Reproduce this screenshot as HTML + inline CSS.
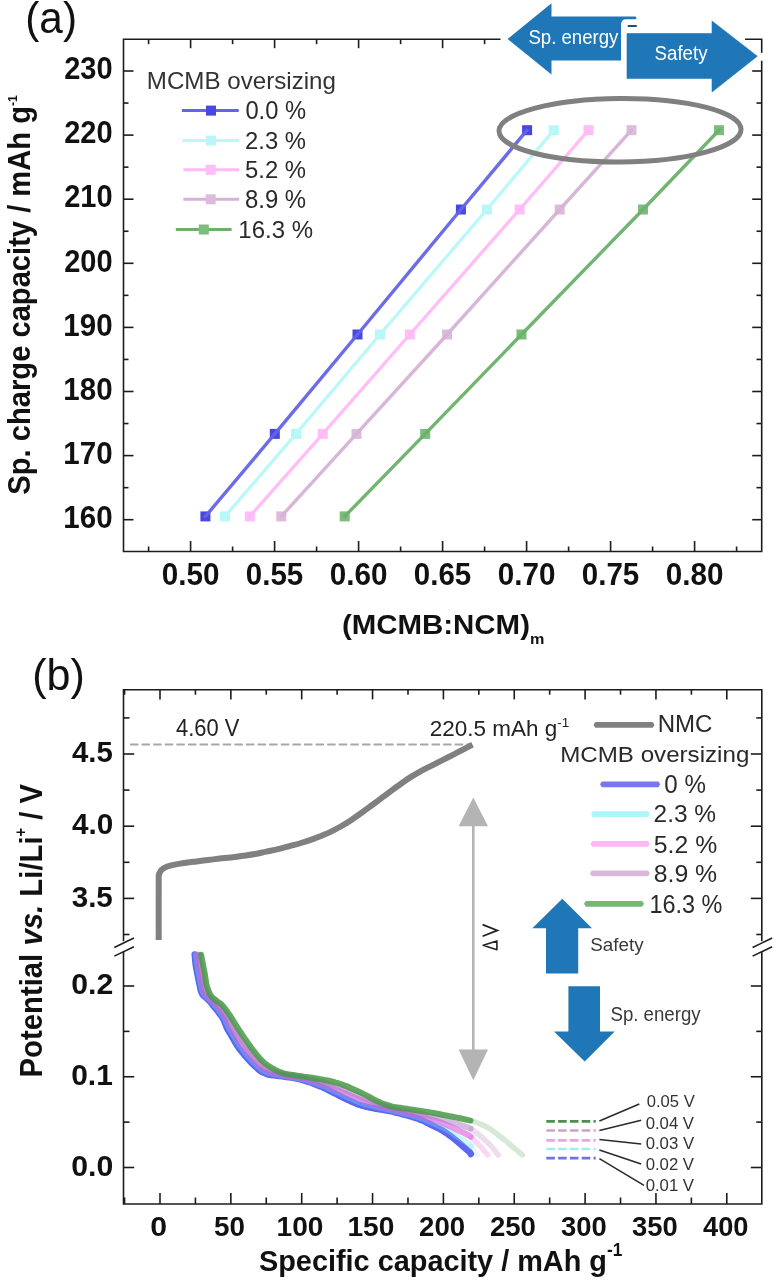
<!DOCTYPE html>
<html><head><meta charset="utf-8"><title>Figure</title>
<style>
html,body{margin:0;padding:0;background:#fff;}
svg{display:block;filter:blur(0.3px);font-family:"Liberation Sans", sans-serif;font-kerning:none;}
</style></head><body>
<svg width="774" height="1280" viewBox="0 0 774 1280">
<rect width="774" height="1280" fill="#fff"/>
<line x1="148.60" y1="551.50" x2="148.60" y2="546.50" stroke="#1c1c1c" stroke-width="1.6" />
<line x1="148.60" y1="39.20" x2="148.60" y2="44.20" stroke="#1c1c1c" stroke-width="1.6" />
<line x1="190.60" y1="551.50" x2="190.60" y2="541.00" stroke="#1c1c1c" stroke-width="1.6" />
<line x1="190.60" y1="39.20" x2="190.60" y2="48.20" stroke="#1c1c1c" stroke-width="1.6" />
<line x1="232.60" y1="551.50" x2="232.60" y2="546.50" stroke="#1c1c1c" stroke-width="1.6" />
<line x1="232.60" y1="39.20" x2="232.60" y2="44.20" stroke="#1c1c1c" stroke-width="1.6" />
<line x1="274.60" y1="551.50" x2="274.60" y2="541.00" stroke="#1c1c1c" stroke-width="1.6" />
<line x1="274.60" y1="39.20" x2="274.60" y2="48.20" stroke="#1c1c1c" stroke-width="1.6" />
<line x1="316.60" y1="551.50" x2="316.60" y2="546.50" stroke="#1c1c1c" stroke-width="1.6" />
<line x1="316.60" y1="39.20" x2="316.60" y2="44.20" stroke="#1c1c1c" stroke-width="1.6" />
<line x1="358.60" y1="551.50" x2="358.60" y2="541.00" stroke="#1c1c1c" stroke-width="1.6" />
<line x1="358.60" y1="39.20" x2="358.60" y2="48.20" stroke="#1c1c1c" stroke-width="1.6" />
<line x1="400.60" y1="551.50" x2="400.60" y2="546.50" stroke="#1c1c1c" stroke-width="1.6" />
<line x1="400.60" y1="39.20" x2="400.60" y2="44.20" stroke="#1c1c1c" stroke-width="1.6" />
<line x1="442.60" y1="551.50" x2="442.60" y2="541.00" stroke="#1c1c1c" stroke-width="1.6" />
<line x1="442.60" y1="39.20" x2="442.60" y2="48.20" stroke="#1c1c1c" stroke-width="1.6" />
<line x1="484.60" y1="551.50" x2="484.60" y2="546.50" stroke="#1c1c1c" stroke-width="1.6" />
<line x1="484.60" y1="39.20" x2="484.60" y2="44.20" stroke="#1c1c1c" stroke-width="1.6" />
<line x1="526.60" y1="551.50" x2="526.60" y2="541.00" stroke="#1c1c1c" stroke-width="1.6" />
<line x1="568.60" y1="551.50" x2="568.60" y2="546.50" stroke="#1c1c1c" stroke-width="1.6" />
<line x1="610.60" y1="551.50" x2="610.60" y2="541.00" stroke="#1c1c1c" stroke-width="1.6" />
<line x1="652.60" y1="551.50" x2="652.60" y2="546.50" stroke="#1c1c1c" stroke-width="1.6" />
<line x1="694.60" y1="551.50" x2="694.60" y2="541.00" stroke="#1c1c1c" stroke-width="1.6" />
<line x1="736.60" y1="551.50" x2="736.60" y2="546.50" stroke="#1c1c1c" stroke-width="1.6" />
<line x1="123.50" y1="519.70" x2="133.50" y2="519.70" stroke="#1c1c1c" stroke-width="1.6" />
<line x1="761.70" y1="519.70" x2="752.20" y2="519.70" stroke="#1c1c1c" stroke-width="1.6" />
<line x1="123.50" y1="487.65" x2="128.50" y2="487.65" stroke="#1c1c1c" stroke-width="1.6" />
<line x1="761.70" y1="487.65" x2="756.50" y2="487.65" stroke="#1c1c1c" stroke-width="1.6" />
<line x1="123.50" y1="455.60" x2="133.50" y2="455.60" stroke="#1c1c1c" stroke-width="1.6" />
<line x1="761.70" y1="455.60" x2="752.20" y2="455.60" stroke="#1c1c1c" stroke-width="1.6" />
<line x1="123.50" y1="423.55" x2="128.50" y2="423.55" stroke="#1c1c1c" stroke-width="1.6" />
<line x1="761.70" y1="423.55" x2="756.50" y2="423.55" stroke="#1c1c1c" stroke-width="1.6" />
<line x1="123.50" y1="391.50" x2="133.50" y2="391.50" stroke="#1c1c1c" stroke-width="1.6" />
<line x1="761.70" y1="391.50" x2="752.20" y2="391.50" stroke="#1c1c1c" stroke-width="1.6" />
<line x1="123.50" y1="359.45" x2="128.50" y2="359.45" stroke="#1c1c1c" stroke-width="1.6" />
<line x1="761.70" y1="359.45" x2="756.50" y2="359.45" stroke="#1c1c1c" stroke-width="1.6" />
<line x1="123.50" y1="327.40" x2="133.50" y2="327.40" stroke="#1c1c1c" stroke-width="1.6" />
<line x1="761.70" y1="327.40" x2="752.20" y2="327.40" stroke="#1c1c1c" stroke-width="1.6" />
<line x1="123.50" y1="295.35" x2="128.50" y2="295.35" stroke="#1c1c1c" stroke-width="1.6" />
<line x1="761.70" y1="295.35" x2="756.50" y2="295.35" stroke="#1c1c1c" stroke-width="1.6" />
<line x1="123.50" y1="263.30" x2="133.50" y2="263.30" stroke="#1c1c1c" stroke-width="1.6" />
<line x1="761.70" y1="263.30" x2="752.20" y2="263.30" stroke="#1c1c1c" stroke-width="1.6" />
<line x1="123.50" y1="231.25" x2="128.50" y2="231.25" stroke="#1c1c1c" stroke-width="1.6" />
<line x1="761.70" y1="231.25" x2="756.50" y2="231.25" stroke="#1c1c1c" stroke-width="1.6" />
<line x1="123.50" y1="199.20" x2="133.50" y2="199.20" stroke="#1c1c1c" stroke-width="1.6" />
<line x1="761.70" y1="199.20" x2="752.20" y2="199.20" stroke="#1c1c1c" stroke-width="1.6" />
<line x1="123.50" y1="167.15" x2="128.50" y2="167.15" stroke="#1c1c1c" stroke-width="1.6" />
<line x1="761.70" y1="167.15" x2="756.50" y2="167.15" stroke="#1c1c1c" stroke-width="1.6" />
<line x1="123.50" y1="135.10" x2="133.50" y2="135.10" stroke="#1c1c1c" stroke-width="1.6" />
<line x1="761.70" y1="135.10" x2="752.20" y2="135.10" stroke="#1c1c1c" stroke-width="1.6" />
<line x1="123.50" y1="103.05" x2="128.50" y2="103.05" stroke="#1c1c1c" stroke-width="1.6" />
<line x1="761.70" y1="103.05" x2="756.50" y2="103.05" stroke="#1c1c1c" stroke-width="1.6" />
<line x1="123.50" y1="71.00" x2="133.50" y2="71.00" stroke="#1c1c1c" stroke-width="1.6" />
<line x1="761.70" y1="71.00" x2="752.20" y2="71.00" stroke="#1c1c1c" stroke-width="1.6" />
<path d="M500.5,39.2 H123.5 V551.5 H761.7 V39.2 H745" fill="none" stroke="#1c1c1c" stroke-width="1.6" stroke-linejoin="miter"/>
<text transform="translate(65.20,527.90) scale(0.9502,1) translate(-1.96,0)" fill="#111" ><tspan y="0.00" font-size="31.08" font-weight="bold" font-style="normal">160</tspan></text>
<text transform="translate(65.20,463.80) scale(0.9502,1) translate(-1.96,0)" fill="#111" ><tspan y="0.00" font-size="31.08" font-weight="bold" font-style="normal">170</tspan></text>
<text transform="translate(65.20,399.70) scale(0.9502,1) translate(-1.96,0)" fill="#111" ><tspan y="0.00" font-size="31.08" font-weight="bold" font-style="normal">180</tspan></text>
<text transform="translate(65.20,335.60) scale(0.9502,1) translate(-1.96,0)" fill="#111" ><tspan y="0.00" font-size="31.08" font-weight="bold" font-style="normal">190</tspan></text>
<text transform="translate(65.20,271.50) scale(0.9333,1) translate(-1.08,0)" fill="#111" ><tspan y="0.00" font-size="31.08" font-weight="bold" font-style="normal">200</tspan></text>
<text transform="translate(65.20,207.40) scale(0.9333,1) translate(-1.08,0)" fill="#111" ><tspan y="0.00" font-size="31.08" font-weight="bold" font-style="normal">210</tspan></text>
<text transform="translate(65.20,143.30) scale(0.9333,1) translate(-1.08,0)" fill="#111" ><tspan y="0.00" font-size="31.08" font-weight="bold" font-style="normal">220</tspan></text>
<text transform="translate(65.20,79.20) scale(0.9333,1) translate(-1.08,0)" fill="#111" ><tspan y="0.00" font-size="31.08" font-weight="bold" font-style="normal">230</tspan></text>
<text transform="translate(163.00,584.50) scale(0.9555,1) translate(-1.23,0)" fill="#111" ><tspan y="0.00" font-size="31.08" font-weight="bold" font-style="normal">0.50</tspan></text>
<text transform="translate(247.00,584.50) scale(0.9487,1) translate(-1.23,0)" fill="#111" ><tspan y="0.00" font-size="31.08" font-weight="bold" font-style="normal">0.55</tspan></text>
<text transform="translate(331.00,584.50) scale(0.9555,1) translate(-1.23,0)" fill="#111" ><tspan y="0.00" font-size="31.08" font-weight="bold" font-style="normal">0.60</tspan></text>
<text transform="translate(415.00,584.50) scale(0.9487,1) translate(-1.23,0)" fill="#111" ><tspan y="0.00" font-size="31.08" font-weight="bold" font-style="normal">0.65</tspan></text>
<text transform="translate(499.00,584.50) scale(0.9555,1) translate(-1.23,0)" fill="#111" ><tspan y="0.00" font-size="31.08" font-weight="bold" font-style="normal">0.70</tspan></text>
<text transform="translate(583.00,584.50) scale(0.9487,1) translate(-1.23,0)" fill="#111" ><tspan y="0.00" font-size="31.08" font-weight="bold" font-style="normal">0.75</tspan></text>
<text transform="translate(667.00,584.50) scale(0.9555,1) translate(-1.23,0)" fill="#111" ><tspan y="0.00" font-size="31.08" font-weight="bold" font-style="normal">0.80</tspan></text>
<text transform="translate(343.40,633.60) scale(1.0497,1) translate(-1.40,0)" fill="#111" ><tspan y="0.00" font-size="28.05" font-weight="bold" font-style="normal">(MCMB:NCM)</tspan><tspan y="10.10" font-size="15.43" font-weight="bold" font-style="normal">m</tspan></text>
<text transform="translate(29.60,493.80) rotate(-90) scale(0.9339,1) translate(-0.90,0)" fill="#111" ><tspan y="0.00" font-size="31.22" font-weight="bold" font-style="normal">Sp. charge capacity / mAh g</tspan><tspan y="-12.49" font-size="13.11" font-weight="bold" font-style="normal">-1</tspan></text>
<text transform="translate(27.90,33.30) scale(0.9441,1) translate(-2.78,0)" fill="#111" ><tspan y="0.00" font-size="44.85" font-weight="normal" font-style="normal">(a)</tspan></text>
<text transform="translate(148.80,88.90) scale(1.0316,1) translate(-1.92,0)" fill="#333" ><tspan y="0.00" font-size="23.40" font-weight="normal" font-style="normal">MCMB oversizing</tspan></text>
<line x1="181.90" y1="110.60" x2="238.70" y2="110.60" stroke="#6464e6" stroke-width="3.0" />
<rect x="206.00" y="105.60" width="10.0" height="10.0" fill="#4848e0"/>
<text transform="translate(246.30,118.80) scale(0.9521,1) translate(-0.97,0)" fill="#2a2a2a" ><tspan y="0.00" font-size="24.92" font-weight="normal" font-style="normal">0.0 %</tspan></text>
<line x1="182.50" y1="140.60" x2="239.00" y2="140.60" stroke="#b8f8f8" stroke-width="3.0" />
<rect x="206.00" y="135.60" width="10.0" height="10.0" fill="#b8f7f7"/>
<text transform="translate(246.30,149.30) scale(0.9620,1) translate(-1.25,0)" fill="#2a2a2a" ><tspan y="0.00" font-size="24.78" font-weight="normal" font-style="normal">2.3 %</tspan></text>
<line x1="183.30" y1="169.80" x2="239.00" y2="169.80" stroke="#ffbaf6" stroke-width="3.0" />
<rect x="205.70" y="164.80" width="10.0" height="10.0" fill="#ffbef8"/>
<text transform="translate(246.00,178.30) scale(0.9873,1) translate(-0.97,0)" fill="#2a2a2a" ><tspan y="0.00" font-size="24.20" font-weight="normal" font-style="normal">5.2 %</tspan></text>
<line x1="183.30" y1="199.30" x2="239.00" y2="199.30" stroke="#d6b2d6" stroke-width="3.0" />
<rect x="205.70" y="194.30" width="10.0" height="10.0" fill="#dcbcdc"/>
<text transform="translate(246.00,207.90) scale(0.9603,1) translate(-1.08,0)" fill="#2a2a2a" ><tspan y="0.00" font-size="24.92" font-weight="normal" font-style="normal">8.9 %</tspan></text>
<line x1="175.80" y1="229.50" x2="231.60" y2="229.50" stroke="#6cb06c" stroke-width="3.0" />
<rect x="198.80" y="224.50" width="10.0" height="10.0" fill="#7cbc7c"/>
<text transform="translate(240.20,238.10) scale(0.9984,1) translate(-1.83,0)" fill="#2a2a2a" ><tspan y="0.00" font-size="24.06" font-weight="normal" font-style="normal">16.3 %</tspan></text>
<rect x="200.40" y="511.40" width="10.0" height="10.0" fill="#4848e0"/>
<rect x="269.80" y="428.90" width="10.0" height="10.0" fill="#4848e0"/>
<rect x="352.50" y="329.50" width="10.0" height="10.0" fill="#4848e0"/>
<rect x="455.90" y="204.50" width="10.0" height="10.0" fill="#4848e0"/>
<rect x="522.10" y="125.20" width="10.0" height="10.0" fill="#4848e0"/>
<polyline points="205.40,516.40 274.80,433.90 357.50,334.50 460.90,209.50 527.10,130.20" fill="none" stroke="#6464e6" stroke-width="3.4" stroke-linejoin="round" stroke-linecap="round" opacity="0.95"/>
<rect x="220.00" y="511.40" width="10.0" height="10.0" fill="#b8f7f7"/>
<rect x="291.00" y="428.90" width="10.0" height="10.0" fill="#b8f7f7"/>
<rect x="375.00" y="329.50" width="10.0" height="10.0" fill="#b8f7f7"/>
<rect x="481.90" y="204.50" width="10.0" height="10.0" fill="#b8f7f7"/>
<rect x="548.80" y="125.20" width="10.0" height="10.0" fill="#b8f7f7"/>
<polyline points="225.00,516.40 296.00,433.90 380.00,334.50 486.90,209.50 553.80,130.20" fill="none" stroke="#b8f8f8" stroke-width="3.4" stroke-linejoin="round" stroke-linecap="round" opacity="0.95"/>
<rect x="244.80" y="511.40" width="10.0" height="10.0" fill="#ffbef8"/>
<rect x="317.80" y="428.90" width="10.0" height="10.0" fill="#ffbef8"/>
<rect x="404.80" y="329.50" width="10.0" height="10.0" fill="#ffbef8"/>
<rect x="514.60" y="204.50" width="10.0" height="10.0" fill="#ffbef8"/>
<rect x="583.50" y="125.20" width="10.0" height="10.0" fill="#ffbef8"/>
<polyline points="249.80,516.40 322.80,433.90 409.80,334.50 519.60,209.50 588.50,130.20" fill="none" stroke="#ffbaf6" stroke-width="3.4" stroke-linejoin="round" stroke-linecap="round" opacity="0.95"/>
<rect x="276.30" y="511.40" width="10.0" height="10.0" fill="#dcbcdc"/>
<rect x="351.50" y="428.90" width="10.0" height="10.0" fill="#dcbcdc"/>
<rect x="442.10" y="329.50" width="10.0" height="10.0" fill="#dcbcdc"/>
<rect x="554.70" y="204.50" width="10.0" height="10.0" fill="#dcbcdc"/>
<rect x="626.50" y="125.20" width="10.0" height="10.0" fill="#dcbcdc"/>
<polyline points="281.30,516.40 356.50,433.90 447.10,334.50 559.70,209.50 631.50,130.20" fill="none" stroke="#d6b2d6" stroke-width="3.4" stroke-linejoin="round" stroke-linecap="round" opacity="0.95"/>
<rect x="339.70" y="511.40" width="10.0" height="10.0" fill="#7cbc7c"/>
<rect x="420.20" y="428.90" width="10.0" height="10.0" fill="#7cbc7c"/>
<rect x="516.50" y="329.50" width="10.0" height="10.0" fill="#7cbc7c"/>
<rect x="638.00" y="204.50" width="10.0" height="10.0" fill="#7cbc7c"/>
<rect x="714.00" y="125.20" width="10.0" height="10.0" fill="#7cbc7c"/>
<polyline points="344.70,516.40 425.20,433.90 521.50,334.50 643.00,209.50 719.00,130.20" fill="none" stroke="#6cb06c" stroke-width="3.4" stroke-linejoin="round" stroke-linecap="round" opacity="0.95"/>
<ellipse cx="620" cy="130.2" rx="121" ry="31.8" fill="none" stroke="#808080" stroke-width="5" transform="rotate(-0.4 620 130.2)"/>
<path d="M507.6,38.9 L551.5,3.3 L551.5,16.6 L634.5,16.6 Q636.5,16.6 636.5,17.9 Q636.5,19.2 634.5,19.2 L626,19.2 Q621,19.2 621,25 L621,60.6 L551.5,60.6 L551.5,74.5 Z" fill="#2077b8"/>
<line x1="628.5" y1="26" x2="636" y2="26" stroke="#1f4f80" stroke-width="2" stroke-linecap="round"/>
<path d="M627,33.5 L712,33.5 L712,21 L757.3,56.2 L712,92 L712,78.6 L627,78.6 Z" fill="#2077b8" stroke="#2077b8" stroke-width="0.6" stroke-linejoin="round"/>
<rect x="758.8" y="52.8" width="6" height="7.9" fill="#fff"/>
<text transform="translate(529.30,43.80) scale(0.9279,1) translate(-0.91,0)" fill="#fff" ><tspan y="0.00" font-size="20.05" font-weight="normal" font-style="normal">Sp. energy</tspan></text>
<text transform="translate(655.40,59.70) scale(0.9389,1) translate(-0.90,0)" fill="#fff" ><tspan y="0.00" font-size="19.91" font-weight="normal" font-style="normal">Safety</tspan></text>
<line x1="124.57" y1="1204.00" x2="124.57" y2="1197.50" stroke="#1c1c1c" stroke-width="1.6" />
<line x1="124.57" y1="689.70" x2="124.57" y2="694.70" stroke="#1c1c1c" stroke-width="1.6" />
<line x1="160.00" y1="1204.00" x2="160.00" y2="1193.00" stroke="#1c1c1c" stroke-width="1.6" />
<line x1="160.00" y1="689.70" x2="160.00" y2="699.40" stroke="#1c1c1c" stroke-width="1.6" />
<line x1="195.43" y1="1204.00" x2="195.43" y2="1197.50" stroke="#1c1c1c" stroke-width="1.6" />
<line x1="195.43" y1="689.70" x2="195.43" y2="694.70" stroke="#1c1c1c" stroke-width="1.6" />
<line x1="230.85" y1="1204.00" x2="230.85" y2="1193.00" stroke="#1c1c1c" stroke-width="1.6" />
<line x1="230.85" y1="689.70" x2="230.85" y2="699.40" stroke="#1c1c1c" stroke-width="1.6" />
<line x1="266.27" y1="1204.00" x2="266.27" y2="1197.50" stroke="#1c1c1c" stroke-width="1.6" />
<line x1="266.27" y1="689.70" x2="266.27" y2="694.70" stroke="#1c1c1c" stroke-width="1.6" />
<line x1="301.70" y1="1204.00" x2="301.70" y2="1193.00" stroke="#1c1c1c" stroke-width="1.6" />
<line x1="301.70" y1="689.70" x2="301.70" y2="699.40" stroke="#1c1c1c" stroke-width="1.6" />
<line x1="337.12" y1="1204.00" x2="337.12" y2="1197.50" stroke="#1c1c1c" stroke-width="1.6" />
<line x1="337.12" y1="689.70" x2="337.12" y2="694.70" stroke="#1c1c1c" stroke-width="1.6" />
<line x1="372.55" y1="1204.00" x2="372.55" y2="1193.00" stroke="#1c1c1c" stroke-width="1.6" />
<line x1="372.55" y1="689.70" x2="372.55" y2="699.40" stroke="#1c1c1c" stroke-width="1.6" />
<line x1="407.98" y1="1204.00" x2="407.98" y2="1197.50" stroke="#1c1c1c" stroke-width="1.6" />
<line x1="407.98" y1="689.70" x2="407.98" y2="694.70" stroke="#1c1c1c" stroke-width="1.6" />
<line x1="443.40" y1="1204.00" x2="443.40" y2="1193.00" stroke="#1c1c1c" stroke-width="1.6" />
<line x1="443.40" y1="689.70" x2="443.40" y2="699.40" stroke="#1c1c1c" stroke-width="1.6" />
<line x1="478.82" y1="1204.00" x2="478.82" y2="1197.50" stroke="#1c1c1c" stroke-width="1.6" />
<line x1="478.82" y1="689.70" x2="478.82" y2="694.70" stroke="#1c1c1c" stroke-width="1.6" />
<line x1="514.25" y1="1204.00" x2="514.25" y2="1193.00" stroke="#1c1c1c" stroke-width="1.6" />
<line x1="514.25" y1="689.70" x2="514.25" y2="699.40" stroke="#1c1c1c" stroke-width="1.6" />
<line x1="549.67" y1="1204.00" x2="549.67" y2="1197.50" stroke="#1c1c1c" stroke-width="1.6" />
<line x1="549.67" y1="689.70" x2="549.67" y2="694.70" stroke="#1c1c1c" stroke-width="1.6" />
<line x1="585.10" y1="1204.00" x2="585.10" y2="1193.00" stroke="#1c1c1c" stroke-width="1.6" />
<line x1="585.10" y1="689.70" x2="585.10" y2="699.40" stroke="#1c1c1c" stroke-width="1.6" />
<line x1="620.53" y1="1204.00" x2="620.53" y2="1197.50" stroke="#1c1c1c" stroke-width="1.6" />
<line x1="620.53" y1="689.70" x2="620.53" y2="694.70" stroke="#1c1c1c" stroke-width="1.6" />
<line x1="655.95" y1="1204.00" x2="655.95" y2="1193.00" stroke="#1c1c1c" stroke-width="1.6" />
<line x1="655.95" y1="689.70" x2="655.95" y2="699.40" stroke="#1c1c1c" stroke-width="1.6" />
<line x1="691.38" y1="1204.00" x2="691.38" y2="1197.50" stroke="#1c1c1c" stroke-width="1.6" />
<line x1="691.38" y1="689.70" x2="691.38" y2="694.70" stroke="#1c1c1c" stroke-width="1.6" />
<line x1="726.80" y1="1204.00" x2="726.80" y2="1193.00" stroke="#1c1c1c" stroke-width="1.6" />
<line x1="726.80" y1="689.70" x2="726.80" y2="699.40" stroke="#1c1c1c" stroke-width="1.6" />
<line x1="123.50" y1="934.50" x2="129.50" y2="934.50" stroke="#1c1c1c" stroke-width="1.6" />
<line x1="761.80" y1="934.50" x2="756.30" y2="934.50" stroke="#1c1c1c" stroke-width="1.6" />
<line x1="123.50" y1="898.40" x2="134.20" y2="898.40" stroke="#1c1c1c" stroke-width="1.6" />
<line x1="761.80" y1="898.40" x2="750.80" y2="898.40" stroke="#1c1c1c" stroke-width="1.6" />
<line x1="123.50" y1="862.30" x2="129.50" y2="862.30" stroke="#1c1c1c" stroke-width="1.6" />
<line x1="761.80" y1="862.30" x2="756.30" y2="862.30" stroke="#1c1c1c" stroke-width="1.6" />
<line x1="123.50" y1="826.20" x2="134.20" y2="826.20" stroke="#1c1c1c" stroke-width="1.6" />
<line x1="761.80" y1="826.20" x2="750.80" y2="826.20" stroke="#1c1c1c" stroke-width="1.6" />
<line x1="123.50" y1="790.10" x2="129.50" y2="790.10" stroke="#1c1c1c" stroke-width="1.6" />
<line x1="761.80" y1="790.10" x2="756.30" y2="790.10" stroke="#1c1c1c" stroke-width="1.6" />
<line x1="123.50" y1="754.00" x2="134.20" y2="754.00" stroke="#1c1c1c" stroke-width="1.6" />
<line x1="761.80" y1="754.00" x2="750.80" y2="754.00" stroke="#1c1c1c" stroke-width="1.6" />
<line x1="123.50" y1="717.90" x2="129.50" y2="717.90" stroke="#1c1c1c" stroke-width="1.6" />
<line x1="761.80" y1="717.90" x2="756.30" y2="717.90" stroke="#1c1c1c" stroke-width="1.6" />
<line x1="123.50" y1="1167.50" x2="134.20" y2="1167.50" stroke="#1c1c1c" stroke-width="1.6" />
<line x1="761.80" y1="1167.50" x2="750.80" y2="1167.50" stroke="#1c1c1c" stroke-width="1.6" />
<line x1="123.50" y1="1122.12" x2="129.50" y2="1122.12" stroke="#1c1c1c" stroke-width="1.6" />
<line x1="761.80" y1="1122.12" x2="756.30" y2="1122.12" stroke="#1c1c1c" stroke-width="1.6" />
<line x1="123.50" y1="1076.75" x2="134.20" y2="1076.75" stroke="#1c1c1c" stroke-width="1.6" />
<line x1="761.80" y1="1076.75" x2="750.80" y2="1076.75" stroke="#1c1c1c" stroke-width="1.6" />
<line x1="123.50" y1="1031.38" x2="129.50" y2="1031.38" stroke="#1c1c1c" stroke-width="1.6" />
<line x1="761.80" y1="1031.38" x2="756.30" y2="1031.38" stroke="#1c1c1c" stroke-width="1.6" />
<line x1="123.50" y1="986.00" x2="134.20" y2="986.00" stroke="#1c1c1c" stroke-width="1.6" />
<line x1="761.80" y1="986.00" x2="750.80" y2="986.00" stroke="#1c1c1c" stroke-width="1.6" />
<path d="M123.5,941.3 V689.7 H761.8 V941.3 M123.5,951.7 V1204.0 H761.8 V951.7" fill="none" stroke="#1c1c1c" stroke-width="1.6" stroke-linejoin="miter"/>
<line x1="114.30" y1="947.50" x2="133.90" y2="938.00" stroke="#1c1c1c" stroke-width="1.5" />
<line x1="114.30" y1="956.10" x2="133.90" y2="946.70" stroke="#1c1c1c" stroke-width="1.5" />
<line x1="752.60" y1="947.50" x2="772.20" y2="938.00" stroke="#1c1c1c" stroke-width="1.5" />
<line x1="752.60" y1="956.10" x2="772.20" y2="946.70" stroke="#1c1c1c" stroke-width="1.5" />
<text transform="translate(72.40,762.10) scale(0.9770,1) translate(-0.46,0)" fill="#111" ><tspan y="0.00" font-size="30.09" font-weight="bold" font-style="normal">4.5</tspan></text>
<text transform="translate(72.40,834.30) scale(1.0013,1) translate(-0.45,0)" fill="#111" ><tspan y="0.00" font-size="29.65" font-weight="bold" font-style="normal">4.0</tspan></text>
<text transform="translate(72.40,906.50) scale(0.9973,1) translate(-0.68,0)" fill="#111" ><tspan y="0.00" font-size="29.65" font-weight="bold" font-style="normal">3.5</tspan></text>
<text transform="translate(72.40,994.10) scale(1.0192,1) translate(-1.17,0)" fill="#111" ><tspan y="0.00" font-size="29.65" font-weight="bold" font-style="normal">0.2</tspan></text>
<text transform="translate(72.40,1084.85) scale(1.0098,1) translate(-1.17,0)" fill="#111" ><tspan y="0.00" font-size="29.65" font-weight="bold" font-style="normal">0.1</tspan></text>
<text transform="translate(72.40,1175.60) scale(1.0200,1) translate(-1.17,0)" fill="#111" ><tspan y="0.00" font-size="29.65" font-weight="bold" font-style="normal">0.0</tspan></text>
<text transform="translate(151.40,1236.30) scale(1.0787,1) translate(-1.11,0)" fill="#111" ><tspan y="0.00" font-size="28.07" font-weight="bold" font-style="normal">0</tspan></text>
<text transform="translate(214.95,1236.30) scale(0.9929,1) translate(-0.86,0)" fill="#111" ><tspan y="0.00" font-size="28.07" font-weight="bold" font-style="normal">50</tspan></text>
<text transform="translate(278.30,1236.30) scale(1.0019,1) translate(-1.77,0)" fill="#111" ><tspan y="0.00" font-size="28.07" font-weight="bold" font-style="normal">100</tspan></text>
<text transform="translate(349.15,1236.30) scale(1.0019,1) translate(-1.77,0)" fill="#111" ><tspan y="0.00" font-size="28.07" font-weight="bold" font-style="normal">150</tspan></text>
<text transform="translate(420.00,1236.30) scale(0.9841,1) translate(-0.97,0)" fill="#111" ><tspan y="0.00" font-size="28.07" font-weight="bold" font-style="normal">200</tspan></text>
<text transform="translate(490.85,1236.30) scale(0.9841,1) translate(-0.97,0)" fill="#111" ><tspan y="0.00" font-size="28.07" font-weight="bold" font-style="normal">250</tspan></text>
<text transform="translate(561.70,1236.30) scale(0.9769,1) translate(-0.64,0)" fill="#111" ><tspan y="0.00" font-size="28.07" font-weight="bold" font-style="normal">300</tspan></text>
<text transform="translate(632.55,1236.30) scale(0.9769,1) translate(-0.64,0)" fill="#111" ><tspan y="0.00" font-size="28.07" font-weight="bold" font-style="normal">350</tspan></text>
<text transform="translate(703.40,1236.30) scale(0.9722,1) translate(-0.42,0)" fill="#111" ><tspan y="0.00" font-size="28.07" font-weight="bold" font-style="normal">400</tspan></text>
<text transform="translate(259.80,1271.00) scale(0.9737,1) translate(-0.85,0)" fill="#111" ><tspan y="0.00" font-size="29.65" font-weight="bold" font-style="normal">Specific capacity / mAh g</tspan><tspan y="-15.42" font-size="17.79" font-weight="bold" font-style="normal">-1</tspan></text>
<text transform="translate(42.00,1075.60) rotate(-90) scale(0.9385,1) translate(-2.09,0)" fill="#111" ><tspan y="0.00" font-size="31.25" font-weight="bold" font-style="normal">Potential </tspan><tspan y="0.00" font-size="31.25" font-weight="bold" font-style="italic">vs.</tspan><tspan y="0.00" font-size="31.25" font-weight="bold" font-style="normal"> Li/Li</tspan><tspan y="-15.63" font-size="15.63" font-weight="bold" font-style="normal">+</tspan><tspan y="0.00" font-size="31.25" font-weight="bold" font-style="normal"> / V</tspan></text>
<text transform="translate(34.90,690.00) scale(0.9574,1) translate(-2.79,0)" fill="#111" ><tspan y="0.00" font-size="44.99" font-weight="normal" font-style="normal">(b)</tspan></text>
<line x1="130" y1="744.5" x2="472" y2="744.5" stroke="#a8a8a8" stroke-width="2" stroke-dasharray="8.4,3.2"/>
<text transform="translate(176.50,736.20) scale(0.9209,1) translate(-0.55,0)" fill="#222" ><tspan y="0.00" font-size="23.77" font-weight="normal" font-style="normal">4.60 V</tspan></text>
<text transform="translate(430.90,735.70) scale(1.0466,1) translate(-1.08,0)" fill="#222" ><tspan y="0.00" font-size="21.48" font-weight="normal" font-style="normal">220.5 mAh g</tspan><tspan y="-8.59" font-size="12.89" font-weight="normal" font-style="normal">-1</tspan></text>
<path d="M158.70,940.00 C158.70,930.12 158.63,891.58 158.70,880.70 C158.77,869.82 158.82,876.27 159.10,874.70 C159.38,873.13 159.75,872.30 160.40,871.30 C161.05,870.30 161.73,869.53 163.00,868.70 C164.27,867.87 166.28,866.93 168.00,866.30 C169.72,865.67 170.63,865.45 173.30,864.90 C175.97,864.35 180.13,863.58 184.00,863.00 C187.87,862.42 192.50,861.90 196.50,861.40 C200.50,860.90 204.12,860.47 208.00,860.00 C211.88,859.53 215.97,859.03 219.80,858.60 C223.63,858.17 227.13,857.87 231.00,857.40 C234.87,856.93 239.00,856.37 243.00,855.80 C247.00,855.23 251.12,854.70 255.00,854.00 C258.88,853.30 262.47,852.40 266.30,851.60 C270.13,850.80 274.13,850.12 278.00,849.20 C281.87,848.28 285.67,847.13 289.50,846.10 C293.33,845.07 297.12,844.17 301.00,843.00 C304.88,841.83 309.30,840.35 312.80,839.10 C316.30,837.85 319.13,836.67 322.00,835.50 C324.87,834.33 326.88,833.60 330.00,832.10 C333.12,830.60 337.20,828.48 340.70,826.50 C344.20,824.52 347.57,822.45 351.00,820.20 C354.43,817.95 357.88,815.45 361.30,813.00 C364.72,810.55 368.05,808.05 371.50,805.50 C374.95,802.95 378.50,800.30 382.00,797.70 C385.50,795.10 389.05,792.43 392.50,789.90 C395.95,787.37 399.62,784.67 402.70,782.50 C405.78,780.33 408.25,778.63 411.00,776.90 C413.75,775.17 416.62,773.55 419.20,772.10 C421.78,770.65 424.08,769.45 426.50,768.20 C428.92,766.95 430.78,766.08 433.70,764.60 C436.62,763.12 440.55,761.05 444.00,759.30 C447.45,757.55 451.23,755.72 454.40,754.10 C457.57,752.48 459.98,751.17 463.00,749.60 C466.02,748.03 470.92,745.52 472.50,744.70" fill="none" stroke="#808080" stroke-width="6" stroke-linecap="butt" stroke-linejoin="round"/>
<path d="M593.50,724.90 L595.30,722.00 L652.70,722.00 L654.50,724.90 L652.70,727.80 L595.30,727.80 Z" fill="#808080"/>
<text transform="translate(659.70,732.10) scale(1.0155,1) translate(-1.94,0)" fill="#2a2a2a" ><tspan y="0.00" font-size="23.69" font-weight="normal" font-style="normal">NMC</tspan></text>
<path d="M600.00,784.30 L601.80,781.40 L658.40,781.40 L660.20,784.30 L658.40,787.20 L601.80,787.20 Z" fill="#7878ee"/>
<text transform="translate(665.20,792.90) scale(0.9525,1) translate(-0.99,0)" fill="#2a2a2a" ><tspan y="0.00" font-size="25.35" font-weight="normal" font-style="normal">0 %</tspan></text>
<path d="M591.00,814.20 L592.80,811.30 L648.00,811.30 L649.80,814.20 L648.00,817.10 L592.80,817.10 Z" fill="#aaf6f8"/>
<text transform="translate(654.80,821.70) scale(1.0298,1) translate(-1.20,0)" fill="#2a2a2a" ><tspan y="0.00" font-size="23.77" font-weight="normal" font-style="normal">2.3 %</tspan></text>
<path d="M590.50,843.90 L592.30,841.00 L648.00,841.00 L649.80,843.90 L648.00,846.80 L592.30,846.80 Z" fill="#ffb8f6"/>
<text transform="translate(654.80,852.70) scale(1.0180,1) translate(-0.97,0)" fill="#2a2a2a" ><tspan y="0.00" font-size="24.35" font-weight="normal" font-style="normal">5.2 %</tspan></text>
<path d="M589.90,873.40 L591.70,870.50 L648.00,870.50 L649.80,873.40 L648.00,876.30 L591.70,876.30 Z" fill="#dab8dc"/>
<text transform="translate(654.80,882.20) scale(1.0134,1) translate(-1.06,0)" fill="#2a2a2a" ><tspan y="0.00" font-size="24.49" font-weight="normal" font-style="normal">8.9 %</tspan></text>
<path d="M584.00,903.80 L585.80,900.90 L642.20,900.90 L644.00,903.80 L642.20,906.70 L585.80,906.70 Z" fill="#74b874"/>
<text transform="translate(651.20,912.70) scale(0.9292,1) translate(-1.92,0)" fill="#2a2a2a" ><tspan y="0.00" font-size="25.21" font-weight="normal" font-style="normal">16.3 %</tspan></text>
<text transform="translate(562.20,762.20) scale(1.0938,1) translate(-1.81,0)" fill="#2a2a2a" ><tspan y="0.00" font-size="22.09" font-weight="normal" font-style="normal">MCMB oversizing</tspan></text>
<line x1="473.30" y1="824.00" x2="473.30" y2="1052.00" stroke="#b4b4b4" stroke-width="2.6" />
<path d="M473.3,797.4 L488,826.3 L458.6,826.3 Z" fill="#b4b4b4"/>
<path d="M473.3,1080.3 L488,1049.5 L458.6,1049.5 Z" fill="#b4b4b4"/>
<path d="M482.6,924.6 L497.4,930.4 L482.6,936.2" fill="none" stroke="#222" stroke-width="1.7" stroke-linejoin="miter"/>
<path d="M483.2,945.3 L496.9,940.9 L496.9,949.7 Z" fill="none" stroke="#222" stroke-width="1.6" stroke-linejoin="round"/>
<path d="M562.3,898.7 L592,928.3 L578.2,928.3 L578.2,973.6 L546,973.6 L546,928.3 L532.3,928.3 Z" fill="#2077b8"/>
<path d="M568.4,986.2 L600,986.2 L600,1031.4 L614.7,1031.4 L584.7,1061.5 L554,1031.4 L568.4,1031.4 Z" fill="#2077b8"/>
<text transform="translate(591.00,951.00) scale(0.9981,1) translate(-0.86,0)" fill="#3a3a3a" ><tspan y="0.00" font-size="18.90" font-weight="normal" font-style="normal">Safety</tspan></text>
<text transform="translate(611.30,1020.70) scale(0.9105,1) translate(-0.93,0)" fill="#3a3a3a" ><tspan y="0.00" font-size="20.48" font-weight="normal" font-style="normal">Sp. energy</tspan></text>
<path d="M471.30,1146.50 C471.75,1147.17 473.05,1149.08 474.00,1150.50 C474.95,1151.92 476.50,1154.25 477.00,1155.00" fill="none" stroke="#e6f7f7" stroke-width="5.5" stroke-linecap="round"/>
<path d="M471.30,1137.50 C472.08,1138.25 474.38,1140.42 476.00,1142.00 C477.62,1143.58 479.07,1144.83 481.00,1147.00 C482.93,1149.17 486.50,1153.67 487.60,1155.00" fill="none" stroke="#f8d8f2" stroke-width="5.5" stroke-linecap="round"/>
<path d="M471.30,1129.00 C472.42,1129.83 475.72,1132.17 478.00,1134.00 C480.28,1135.83 482.67,1137.83 485.00,1140.00 C487.33,1142.17 489.80,1144.50 492.00,1147.00 C494.20,1149.50 497.17,1153.67 498.20,1155.00" fill="none" stroke="#eddcec" stroke-width="5.5" stroke-linecap="round"/>
<path d="M472.00,1120.80 C473.17,1121.25 476.57,1122.50 479.00,1123.50 C481.43,1124.50 484.27,1125.55 486.60,1126.80 C488.93,1128.05 490.73,1129.38 493.00,1131.00 C495.27,1132.62 498.03,1134.83 500.20,1136.50 C502.37,1138.17 504.07,1139.38 506.00,1141.00 C507.93,1142.62 509.97,1144.62 511.80,1146.20 C513.63,1147.78 515.23,1149.03 517.00,1150.50 C518.77,1151.97 521.50,1154.25 522.40,1155.00" fill="none" stroke="#d6e9d6" stroke-width="5.5" stroke-linecap="round"/>
<path d="M194.70,954.50 C194.78,955.27 195.00,957.57 195.15,959.11 C195.30,960.64 195.41,962.18 195.60,963.71 C195.80,965.24 196.04,966.76 196.30,968.28 C196.56,969.80 196.89,971.31 197.18,972.83 C197.48,974.34 197.78,975.85 198.08,977.37 C198.38,978.88 198.69,980.39 199.00,981.90 C199.31,983.41 199.61,984.93 199.93,986.43 C200.25,987.94 200.45,989.51 200.95,990.95 C201.45,992.39 202.03,993.87 202.95,995.05 C203.86,996.24 205.31,997.01 206.44,998.05 C207.56,999.08 208.68,1000.13 209.71,1001.27 C210.74,1002.41 211.63,1003.69 212.60,1004.89 C213.57,1006.08 214.58,1007.25 215.55,1008.45 C216.52,1009.65 217.47,1010.87 218.41,1012.09 C219.35,1013.31 220.31,1014.53 221.19,1015.79 C222.06,1017.06 222.94,1018.32 223.64,1019.69 C224.33,1021.05 224.79,1022.55 225.36,1023.98 C225.94,1025.41 226.42,1026.89 227.09,1028.28 C227.76,1029.66 228.64,1030.95 229.41,1032.28 C230.19,1033.61 230.96,1034.95 231.73,1036.28 C232.51,1037.62 233.28,1038.95 234.06,1040.28 C234.83,1041.62 235.57,1042.98 236.38,1044.29 C237.19,1045.60 238.00,1046.91 238.91,1048.15 C239.81,1049.40 240.84,1050.56 241.81,1051.76 C242.78,1052.95 243.75,1054.16 244.75,1055.33 C245.75,1056.50 246.79,1057.65 247.82,1058.80 C248.85,1059.94 249.86,1061.11 250.92,1062.22 C251.99,1063.34 253.09,1064.42 254.20,1065.50 C255.30,1066.57 256.40,1067.65 257.57,1068.66 C258.73,1069.66 259.88,1070.76 261.18,1071.55 C262.48,1072.34 263.94,1072.86 265.38,1073.39 C266.81,1073.92 268.29,1074.41 269.79,1074.73 C271.29,1075.06 272.85,1075.14 274.38,1075.34 C275.91,1075.55 277.44,1075.75 278.97,1075.95 C280.50,1076.15 282.03,1076.34 283.56,1076.55 C285.08,1076.75 286.61,1076.96 288.14,1077.17 C289.67,1077.38 291.20,1077.56 292.72,1077.82 C294.24,1078.08 295.75,1078.40 297.26,1078.72 C298.77,1079.04 300.28,1079.34 301.78,1079.73 C303.27,1080.11 304.75,1080.57 306.22,1081.04 C307.69,1081.50 309.15,1081.99 310.59,1082.52 C312.04,1083.06 313.46,1083.68 314.89,1084.25 C316.32,1084.82 317.75,1085.40 319.19,1085.97 C320.62,1086.54 322.08,1087.05 323.49,1087.68 C324.89,1088.31 326.25,1089.05 327.62,1089.75 C328.99,1090.45 330.36,1091.17 331.73,1091.87 C333.11,1092.57 334.49,1093.25 335.87,1093.94 C337.25,1094.63 338.63,1095.32 340.02,1096.00 C341.40,1096.69 342.78,1097.37 344.16,1098.05 C345.55,1098.74 346.92,1099.44 348.32,1100.10 C349.71,1100.76 351.12,1101.38 352.53,1102.02 C353.93,1102.66 355.30,1103.39 356.74,1103.94 C358.18,1104.48 359.68,1104.86 361.16,1105.30 C362.63,1105.75 364.10,1106.24 365.59,1106.62 C367.09,1107.00 368.61,1107.27 370.12,1107.58 C371.63,1107.90 373.14,1108.22 374.66,1108.49 C376.17,1108.76 377.70,1108.99 379.22,1109.23 C380.75,1109.47 382.28,1109.67 383.80,1109.94 C385.32,1110.20 386.83,1110.52 388.34,1110.82 C389.85,1111.12 391.38,1111.37 392.88,1111.72 C394.38,1112.06 395.87,1112.49 397.36,1112.88 C398.85,1113.27 400.34,1113.68 401.83,1114.07 C403.33,1114.45 404.82,1114.83 406.32,1115.22 C407.81,1115.60 409.32,1115.93 410.80,1116.37 C412.28,1116.81 413.72,1117.35 415.18,1117.84 C416.64,1118.34 418.12,1118.81 419.56,1119.36 C421.00,1119.90 422.42,1120.48 423.82,1121.12 C425.22,1121.76 426.58,1122.51 427.96,1123.21 C429.33,1123.90 430.71,1124.60 432.09,1125.29 C433.47,1125.98 434.85,1126.66 436.23,1127.35 C437.62,1128.03 439.02,1128.68 440.38,1129.40 C441.74,1130.13 443.09,1130.86 444.39,1131.68 C445.69,1132.51 446.91,1133.47 448.17,1134.36 C449.43,1135.25 450.72,1136.11 451.95,1137.03 C453.18,1137.96 454.38,1138.92 455.57,1139.91 C456.75,1140.89 457.89,1141.93 459.06,1142.94 C460.22,1143.96 461.39,1144.97 462.55,1145.98 C463.72,1146.98 464.91,1147.97 466.07,1148.99 C467.22,1150.02 468.67,1151.28 469.46,1152.11 C470.25,1152.95 470.58,1153.69 470.80,1154.00" fill="none" stroke="#5c66f0" stroke-width="6.5" stroke-linecap="round" stroke-linejoin="round" opacity="1.0"/>
<path d="M195.98,954.56 C196.07,955.32 196.33,957.58 196.51,959.10 C196.68,960.61 196.82,962.13 197.03,963.63 C197.24,965.14 197.49,966.64 197.76,968.14 C198.02,969.64 198.34,971.13 198.63,972.63 C198.91,974.12 199.20,975.62 199.49,977.12 C199.77,978.61 200.06,980.11 200.36,981.60 C200.65,983.10 200.93,984.59 201.25,986.08 C201.58,987.57 201.81,989.11 202.31,990.53 C202.80,991.95 203.37,993.40 204.23,994.61 C205.09,995.81 206.38,996.70 207.46,997.75 C208.55,998.80 209.69,999.80 210.73,1000.90 C211.78,1002.00 212.71,1003.20 213.72,1004.33 C214.73,1005.46 215.81,1006.52 216.79,1007.68 C217.78,1008.84 218.70,1010.06 219.63,1011.27 C220.56,1012.47 221.50,1013.67 222.37,1014.92 C223.24,1016.16 224.12,1017.41 224.83,1018.74 C225.55,1020.07 226.06,1021.52 226.68,1022.91 C227.29,1024.30 227.82,1025.73 228.52,1027.08 C229.21,1028.44 230.06,1029.71 230.83,1031.02 C231.60,1032.34 232.37,1033.65 233.15,1034.96 C233.92,1036.27 234.71,1037.58 235.49,1038.89 C236.27,1040.19 237.03,1041.52 237.84,1042.81 C238.65,1044.09 239.46,1045.38 240.35,1046.61 C241.24,1047.84 242.23,1049.01 243.17,1050.20 C244.12,1051.39 245.05,1052.60 246.03,1053.77 C247.00,1054.94 248.01,1056.08 249.01,1057.23 C250.01,1058.38 251.00,1059.54 252.03,1060.65 C253.07,1061.77 254.13,1062.86 255.21,1063.93 C256.29,1065.00 257.37,1066.08 258.51,1067.09 C259.64,1068.10 260.76,1069.18 262.03,1069.99 C263.30,1070.80 264.71,1071.38 266.10,1071.96 C267.49,1072.54 268.93,1073.07 270.38,1073.47 C271.83,1073.88 273.32,1074.10 274.80,1074.39 C276.28,1074.68 277.78,1074.94 279.27,1075.20 C280.76,1075.46 282.26,1075.72 283.76,1075.96 C285.27,1076.19 286.78,1076.40 288.28,1076.61 C289.79,1076.83 291.31,1077.00 292.81,1077.25 C294.31,1077.50 295.80,1077.81 297.30,1078.11 C298.79,1078.41 300.29,1078.69 301.77,1079.04 C303.25,1079.39 304.72,1079.80 306.18,1080.21 C307.64,1080.63 309.10,1081.05 310.54,1081.53 C311.98,1082.00 313.40,1082.54 314.83,1083.04 C316.26,1083.55 317.69,1084.05 319.12,1084.56 C320.56,1085.07 322.01,1085.52 323.42,1086.08 C324.83,1086.64 326.19,1087.29 327.58,1087.91 C328.96,1088.53 330.33,1089.17 331.71,1089.80 C333.09,1090.43 334.48,1091.05 335.86,1091.68 C337.24,1092.31 338.63,1092.93 340.01,1093.57 C341.39,1094.21 342.76,1094.87 344.14,1095.52 C345.52,1096.17 346.89,1096.82 348.27,1097.46 C349.66,1098.10 351.05,1098.72 352.44,1099.35 C353.82,1099.98 355.18,1100.67 356.60,1101.23 C358.01,1101.79 359.47,1102.22 360.92,1102.70 C362.36,1103.18 363.79,1103.70 365.25,1104.13 C366.70,1104.56 368.18,1104.91 369.64,1105.29 C371.10,1105.68 372.56,1106.08 374.03,1106.43 C375.50,1106.79 376.97,1107.11 378.45,1107.43 C379.93,1107.75 381.42,1108.02 382.90,1108.35 C384.38,1108.68 385.84,1109.06 387.32,1109.40 C388.80,1109.74 390.29,1110.02 391.76,1110.38 C393.24,1110.74 394.70,1111.17 396.17,1111.55 C397.64,1111.93 399.11,1112.30 400.58,1112.65 C402.06,1113.01 403.54,1113.33 405.02,1113.67 C406.49,1114.01 407.98,1114.32 409.44,1114.70 C410.91,1115.09 412.34,1115.55 413.79,1115.99 C415.24,1116.42 416.70,1116.82 418.13,1117.29 C419.57,1117.75 420.99,1118.24 422.39,1118.78 C423.79,1119.32 425.16,1119.94 426.54,1120.51 C427.92,1121.09 429.30,1121.68 430.69,1122.25 C432.07,1122.83 433.46,1123.39 434.85,1123.96 C436.24,1124.54 437.64,1125.09 439.01,1125.69 C440.38,1126.30 441.74,1126.92 443.07,1127.60 C444.39,1128.29 445.65,1129.08 446.94,1129.81 C448.24,1130.55 449.55,1131.26 450.82,1132.02 C452.10,1132.79 453.34,1133.58 454.58,1134.39 C455.82,1135.20 457.03,1136.05 458.25,1136.87 C459.47,1137.70 460.70,1138.53 461.92,1139.36 C463.15,1140.19 464.39,1141.01 465.61,1141.85 C466.82,1142.70 468.35,1143.75 469.20,1144.44 C470.06,1145.13 470.47,1145.73 470.73,1145.98" fill="none" stroke="#70e4f4" stroke-width="6" stroke-linecap="round" stroke-linejoin="round" opacity="0.35"/>
<path d="M197.39,954.63 C197.49,955.37 197.79,957.60 198.00,959.09 C198.20,960.57 198.38,962.06 198.60,963.55 C198.83,965.03 199.09,966.51 199.35,967.99 C199.62,969.46 199.93,970.93 200.21,972.41 C200.49,973.89 200.76,975.36 201.03,976.84 C201.31,978.32 201.57,979.80 201.85,981.27 C202.13,982.75 202.38,984.23 202.71,985.69 C203.03,987.16 203.31,988.66 203.80,990.06 C204.29,991.47 204.84,992.89 205.64,994.12 C206.44,995.34 207.55,996.36 208.59,997.42 C209.63,998.48 210.80,999.44 211.86,1000.49 C212.92,1001.54 213.90,1002.67 214.96,1003.72 C216.01,1004.78 217.16,1005.72 218.16,1006.83 C219.16,1007.93 220.04,1009.17 220.96,1010.36 C221.88,1011.55 222.81,1012.73 223.68,1013.96 C224.54,1015.18 225.41,1016.40 226.15,1017.70 C226.89,1019.00 227.47,1020.39 228.12,1021.73 C228.78,1023.08 229.37,1024.45 230.09,1025.77 C230.80,1027.09 231.62,1028.35 232.39,1029.64 C233.16,1030.93 233.92,1032.23 234.70,1033.51 C235.48,1034.80 236.27,1036.07 237.06,1037.35 C237.85,1038.63 238.62,1039.91 239.43,1041.18 C240.25,1042.44 241.06,1043.70 241.93,1044.92 C242.80,1046.14 243.76,1047.30 244.67,1048.49 C245.59,1049.68 246.49,1050.88 247.43,1052.05 C248.38,1053.22 249.35,1054.36 250.32,1055.50 C251.29,1056.65 252.25,1057.81 253.25,1058.92 C254.25,1060.04 255.28,1061.13 256.33,1062.21 C257.38,1063.28 258.43,1064.35 259.54,1065.37 C260.64,1066.38 261.73,1067.44 262.96,1068.28 C264.19,1069.11 265.55,1069.74 266.90,1070.38 C268.24,1071.01 269.62,1071.59 271.02,1072.09 C272.41,1072.58 273.84,1072.95 275.27,1073.34 C276.70,1073.72 278.15,1074.05 279.61,1074.38 C281.06,1074.71 282.52,1075.04 283.99,1075.31 C285.47,1075.58 286.96,1075.78 288.44,1076.00 C289.93,1076.22 291.42,1076.39 292.90,1076.63 C294.39,1076.87 295.86,1077.15 297.34,1077.43 C298.81,1077.71 300.29,1077.98 301.76,1078.29 C303.22,1078.60 304.68,1078.95 306.13,1079.30 C307.59,1079.66 309.04,1080.03 310.48,1080.43 C311.92,1080.83 313.34,1081.28 314.77,1081.71 C316.20,1082.14 317.63,1082.57 319.06,1083.01 C320.49,1083.45 321.93,1083.84 323.34,1084.32 C324.76,1084.80 326.14,1085.35 327.53,1085.89 C328.92,1086.42 330.30,1086.98 331.69,1087.53 C333.08,1088.08 334.46,1088.63 335.85,1089.20 C337.24,1089.76 338.62,1090.32 340.00,1090.90 C341.38,1091.49 342.74,1092.12 344.11,1092.73 C345.48,1093.34 346.86,1093.94 348.23,1094.56 C349.60,1095.17 350.97,1095.79 352.34,1096.41 C353.70,1097.03 355.06,1097.69 356.44,1098.26 C357.83,1098.83 359.25,1099.31 360.65,1099.83 C362.06,1100.36 363.46,1100.90 364.87,1101.39 C366.28,1101.88 367.70,1102.31 369.11,1102.77 C370.53,1103.24 371.93,1103.72 373.35,1104.17 C374.76,1104.62 376.17,1105.05 377.60,1105.46 C379.02,1105.86 380.47,1106.20 381.90,1106.60 C383.34,1106.99 384.75,1107.45 386.19,1107.83 C387.63,1108.21 389.09,1108.53 390.53,1108.90 C391.97,1109.27 393.40,1109.71 394.85,1110.07 C396.29,1110.43 397.74,1110.77 399.19,1111.08 C400.64,1111.39 402.11,1111.65 403.56,1111.94 C405.02,1112.23 406.48,1112.51 407.92,1112.83 C409.37,1113.16 410.79,1113.54 412.23,1113.89 C413.66,1114.25 415.10,1114.58 416.52,1114.95 C417.94,1115.32 419.36,1115.71 420.76,1116.12 C422.16,1116.54 423.54,1117.01 424.93,1117.45 C426.32,1117.89 427.70,1118.34 429.09,1118.78 C430.48,1119.22 431.88,1119.64 433.27,1120.08 C434.66,1120.52 436.06,1120.96 437.44,1121.43 C438.82,1121.90 440.19,1122.37 441.54,1122.90 C442.89,1123.42 444.20,1124.00 445.53,1124.56 C446.86,1125.11 448.20,1125.65 449.52,1126.22 C450.84,1126.79 452.14,1127.38 453.44,1127.98 C454.74,1128.57 456.02,1129.20 457.31,1129.81 C458.60,1130.43 459.89,1131.04 461.19,1131.66 C462.48,1132.27 463.79,1132.89 465.07,1133.52 C466.36,1134.16 467.97,1134.97 468.90,1135.48 C469.83,1136.00 470.35,1136.44 470.64,1136.63" fill="none" stroke="#dc58dc" stroke-width="6" stroke-linecap="round" stroke-linejoin="round" opacity="0.6"/>
<path d="M199.05,954.70 C199.17,955.43 199.52,957.62 199.76,959.07 C199.99,960.53 200.21,961.99 200.46,963.45 C200.71,964.90 200.97,966.35 201.24,967.80 C201.52,969.25 201.82,970.70 202.09,972.15 C202.36,973.61 202.61,975.06 202.87,976.51 C203.12,977.97 203.35,979.43 203.61,980.88 C203.87,982.33 204.10,983.79 204.43,985.23 C204.75,986.67 205.08,988.13 205.56,989.51 C206.04,990.90 206.58,992.29 207.30,993.54 C208.03,994.79 208.94,995.95 209.92,997.03 C210.90,998.11 212.11,999.01 213.19,1000.00 C214.27,1001.00 215.31,1002.04 216.41,1003.01 C217.51,1003.98 218.76,1004.78 219.78,1005.82 C220.80,1006.87 221.64,1008.12 222.54,1009.29 C223.45,1010.45 224.36,1011.62 225.22,1012.82 C226.08,1014.02 226.94,1015.22 227.71,1016.47 C228.48,1017.72 229.12,1019.05 229.83,1020.34 C230.53,1021.63 231.21,1022.94 231.94,1024.22 C232.68,1025.50 233.47,1026.75 234.24,1028.01 C235.00,1029.27 235.76,1030.54 236.54,1031.80 C237.32,1033.05 238.12,1034.29 238.92,1035.53 C239.71,1036.77 240.51,1038.02 241.32,1039.25 C242.14,1040.48 242.95,1041.71 243.80,1042.92 C244.66,1044.12 245.56,1045.29 246.44,1046.47 C247.33,1047.65 248.19,1048.85 249.10,1050.02 C250.00,1051.18 250.94,1052.32 251.87,1053.47 C252.81,1054.61 253.73,1055.77 254.69,1056.88 C255.65,1058.00 256.64,1059.10 257.65,1060.17 C258.66,1061.25 259.69,1062.32 260.75,1063.33 C261.82,1064.34 262.88,1065.39 264.06,1066.25 C265.24,1067.12 266.55,1067.81 267.84,1068.51 C269.12,1069.21 270.45,1069.85 271.78,1070.45 C273.11,1071.05 274.45,1071.60 275.82,1072.09 C277.19,1072.59 278.59,1073.00 280.00,1073.41 C281.41,1073.81 282.83,1074.23 284.27,1074.54 C285.70,1074.85 287.17,1075.04 288.63,1075.27 C290.09,1075.49 291.56,1075.66 293.02,1075.89 C294.47,1076.11 295.93,1076.38 297.38,1076.63 C298.84,1076.88 300.29,1077.13 301.74,1077.40 C303.19,1077.67 304.64,1077.94 306.08,1078.23 C307.53,1078.52 308.97,1078.81 310.40,1079.13 C311.84,1079.45 313.26,1079.80 314.69,1080.14 C316.12,1080.48 317.55,1080.83 318.98,1081.18 C320.40,1081.53 321.84,1081.86 323.26,1082.25 C324.67,1082.63 326.07,1083.06 327.47,1083.50 C328.87,1083.93 330.27,1084.38 331.66,1084.84 C333.05,1085.30 334.45,1085.78 335.84,1086.26 C337.22,1086.75 338.62,1087.22 339.99,1087.75 C341.36,1088.28 342.72,1088.88 344.08,1089.44 C345.44,1090.00 346.82,1090.54 348.17,1091.13 C349.53,1091.71 350.87,1092.33 352.22,1092.94 C353.56,1093.54 354.91,1094.16 356.26,1094.75 C357.61,1095.33 358.98,1095.88 360.34,1096.45 C361.70,1097.02 363.06,1097.60 364.42,1098.15 C365.77,1098.71 367.14,1099.24 368.49,1099.80 C369.85,1100.35 371.19,1100.94 372.54,1101.50 C373.89,1102.05 375.22,1102.62 376.59,1103.13 C377.96,1103.64 379.36,1104.06 380.74,1104.54 C382.12,1105.02 383.48,1105.57 384.88,1106.01 C386.28,1106.45 387.70,1106.81 389.11,1107.20 C390.53,1107.60 391.93,1108.04 393.35,1108.40 C394.78,1108.75 396.21,1109.05 397.64,1109.33 C399.08,1109.60 400.53,1109.80 401.97,1110.05 C403.42,1110.30 404.86,1110.55 406.29,1110.83 C407.73,1111.10 409.15,1111.41 410.58,1111.69 C412.01,1111.98 413.44,1112.25 414.86,1112.54 C416.28,1112.83 417.70,1113.12 419.11,1113.44 C420.52,1113.75 421.92,1114.09 423.33,1114.41 C424.73,1114.74 426.14,1115.08 427.54,1115.41 C428.95,1115.73 430.36,1116.04 431.76,1116.38 C433.16,1116.72 434.57,1117.07 435.96,1117.43 C437.36,1117.80 438.75,1118.17 440.13,1118.56 C441.51,1118.96 442.87,1119.38 444.24,1119.80 C445.61,1120.21 446.99,1120.62 448.36,1121.04 C449.72,1121.46 451.08,1121.89 452.44,1122.32 C453.79,1122.76 455.14,1123.21 456.49,1123.65 C457.84,1124.10 459.20,1124.54 460.55,1124.99 C461.90,1125.44 463.26,1125.89 464.61,1126.36 C465.96,1126.83 467.65,1127.43 468.64,1127.81 C469.64,1128.18 470.25,1128.48 470.57,1128.62" fill="none" stroke="#a878c4" stroke-width="6" stroke-linecap="round" stroke-linejoin="round" opacity="0.5"/>
<path d="M201.10,954.80 C201.24,955.51 201.65,957.64 201.92,959.06 C202.19,960.48 202.47,961.90 202.74,963.32 C203.02,964.74 203.29,966.16 203.57,967.58 C203.85,969.00 204.14,970.41 204.40,971.84 C204.65,973.26 204.89,974.69 205.12,976.11 C205.35,977.54 205.54,978.98 205.78,980.40 C206.02,981.83 206.22,983.26 206.55,984.67 C206.87,986.07 207.26,987.48 207.73,988.84 C208.20,990.20 208.71,991.54 209.35,992.83 C209.99,994.11 210.65,995.46 211.56,996.55 C212.48,997.65 213.72,998.48 214.83,999.41 C215.94,1000.33 217.05,1001.26 218.21,1002.12 C219.36,1002.98 220.72,1003.61 221.77,1004.59 C222.82,1005.56 223.60,1006.83 224.49,1007.97 C225.38,1009.11 226.26,1010.25 227.11,1011.42 C227.97,1012.58 228.82,1013.75 229.62,1014.95 C230.43,1016.16 231.16,1017.40 231.93,1018.63 C232.69,1019.86 233.46,1021.08 234.22,1022.31 C234.99,1023.54 235.75,1024.77 236.51,1026.00 C237.27,1027.23 238.01,1028.47 238.80,1029.69 C239.58,1030.90 240.39,1032.09 241.20,1033.29 C242.01,1034.49 242.83,1035.69 243.65,1036.88 C244.46,1038.07 245.28,1039.27 246.11,1040.45 C246.94,1041.64 247.79,1042.81 248.62,1043.98 C249.46,1045.16 250.28,1046.36 251.14,1047.52 C252.00,1048.68 252.90,1049.81 253.78,1050.96 C254.67,1052.10 255.55,1053.25 256.46,1054.37 C257.38,1055.49 258.31,1056.59 259.28,1057.66 C260.24,1058.74 261.23,1059.81 262.25,1060.82 C263.27,1061.84 264.29,1062.86 265.41,1063.76 C266.54,1064.66 267.78,1065.43 268.99,1066.21 C270.21,1066.99 271.47,1067.71 272.72,1068.43 C273.97,1069.16 275.20,1069.93 276.50,1070.56 C277.79,1071.19 279.14,1071.70 280.49,1072.21 C281.84,1072.71 283.21,1073.24 284.60,1073.60 C286.00,1073.96 287.43,1074.14 288.86,1074.37 C290.28,1074.60 291.72,1074.77 293.15,1074.98 C294.58,1075.19 296.01,1075.42 297.44,1075.65 C298.87,1075.87 300.30,1076.09 301.73,1076.30 C303.16,1076.51 304.59,1076.70 306.02,1076.91 C307.45,1077.11 308.89,1077.32 310.32,1077.54 C311.75,1077.75 313.17,1077.97 314.60,1078.20 C316.03,1078.44 317.45,1078.68 318.88,1078.93 C320.30,1079.18 321.73,1079.42 323.15,1079.69 C324.57,1079.96 325.99,1080.25 327.40,1080.55 C328.81,1080.86 330.22,1081.18 331.63,1081.53 C333.03,1081.88 334.43,1082.26 335.82,1082.65 C337.21,1083.04 338.61,1083.41 339.98,1083.87 C341.35,1084.32 342.69,1084.88 344.04,1085.38 C345.40,1085.89 346.77,1086.36 348.11,1086.90 C349.44,1087.45 350.75,1088.08 352.07,1088.66 C353.39,1089.25 354.72,1089.82 356.03,1090.43 C357.35,1091.03 358.65,1091.66 359.96,1092.28 C361.26,1092.90 362.57,1093.53 363.86,1094.17 C365.16,1094.81 366.45,1095.46 367.73,1096.13 C369.01,1096.81 370.27,1097.52 371.54,1098.21 C372.81,1098.90 374.06,1099.63 375.35,1100.27 C376.65,1100.91 378.00,1101.44 379.32,1102.03 C380.64,1102.62 381.94,1103.27 383.28,1103.79 C384.63,1104.31 386.02,1104.72 387.40,1105.15 C388.78,1105.58 390.16,1106.03 391.56,1106.38 C392.96,1106.73 394.37,1107.00 395.80,1107.24 C397.22,1107.47 398.67,1107.61 400.10,1107.82 C401.53,1108.02 402.95,1108.26 404.38,1108.48 C405.81,1108.70 407.24,1108.93 408.67,1109.15 C410.10,1109.36 411.53,1109.57 412.96,1109.78 C414.39,1109.99 415.82,1110.20 417.26,1110.40 C418.69,1110.61 420.12,1110.82 421.55,1111.03 C422.98,1111.25 424.41,1111.48 425.83,1111.70 C427.26,1111.92 428.70,1112.12 430.12,1112.36 C431.55,1112.61 432.97,1112.89 434.39,1113.16 C435.81,1113.43 437.23,1113.71 438.64,1113.98 C440.06,1114.26 441.48,1114.54 442.90,1114.82 C444.32,1115.11 445.74,1115.40 447.15,1115.68 C448.57,1115.97 449.99,1116.25 451.41,1116.54 C452.82,1116.83 454.24,1117.12 455.66,1117.41 C457.07,1117.70 458.49,1117.98 459.91,1118.27 C461.32,1118.57 462.74,1118.87 464.15,1119.18 C465.56,1119.49 467.32,1119.89 468.38,1120.13 C469.44,1120.36 470.15,1120.52 470.50,1120.60" fill="none" stroke="#469846" stroke-width="6" stroke-linecap="round" stroke-linejoin="round" opacity="0.85"/>
<line x1="546.3" y1="1121.4" x2="595.7" y2="1121.4" stroke="#4e8e4e" stroke-width="2.7" stroke-dasharray="8.6,3.2"/>
<line x1="546.3" y1="1130.5" x2="595.7" y2="1130.5" stroke="#c8a6c8" stroke-width="2.7" stroke-dasharray="8.6,3.2"/>
<line x1="546.3" y1="1140.3" x2="595.7" y2="1140.3" stroke="#f2a0ee" stroke-width="2.7" stroke-dasharray="8.6,3.2"/>
<line x1="546.3" y1="1149.0" x2="595.7" y2="1149.0" stroke="#a0eef0" stroke-width="2.7" stroke-dasharray="8.6,3.2"/>
<line x1="546.3" y1="1158.1" x2="595.7" y2="1158.1" stroke="#7272e0" stroke-width="2.7" stroke-dasharray="8.6,3.2"/>
<line x1="599.40" y1="1121.00" x2="639.30" y2="1104.00" stroke="#2a2a2a" stroke-width="1.5" />
<line x1="599.40" y1="1130.60" x2="641.20" y2="1120.20" stroke="#2a2a2a" stroke-width="1.5" />
<line x1="599.40" y1="1139.50" x2="641.20" y2="1144.00" stroke="#2a2a2a" stroke-width="1.5" />
<line x1="599.40" y1="1150.00" x2="641.20" y2="1164.00" stroke="#2a2a2a" stroke-width="1.5" />
<line x1="599.40" y1="1158.60" x2="644.00" y2="1185.30" stroke="#2a2a2a" stroke-width="1.5" />
<text transform="translate(647.40,1106.80) scale(1.0544,1) translate(-0.62,0)" fill="#333" ><tspan y="0.00" font-size="15.75" font-weight="normal" font-style="normal">0.05 V</tspan></text>
<text transform="translate(646.30,1128.80) scale(1.0443,1) translate(-0.63,0)" fill="#333" ><tspan y="0.00" font-size="16.04" font-weight="normal" font-style="normal">0.04 V</tspan></text>
<text transform="translate(646.30,1149.40) scale(1.0537,1) translate(-0.62,0)" fill="#333" ><tspan y="0.00" font-size="15.90" font-weight="normal" font-style="normal">0.03 V</tspan></text>
<text transform="translate(646.30,1169.50) scale(1.0443,1) translate(-0.63,0)" fill="#333" ><tspan y="0.00" font-size="16.04" font-weight="normal" font-style="normal">0.02 V</tspan></text>
<text transform="translate(646.30,1191.40) scale(1.0443,1) translate(-0.63,0)" fill="#333" ><tspan y="0.00" font-size="16.04" font-weight="normal" font-style="normal">0.01 V</tspan></text>
</svg>
</body></html>
